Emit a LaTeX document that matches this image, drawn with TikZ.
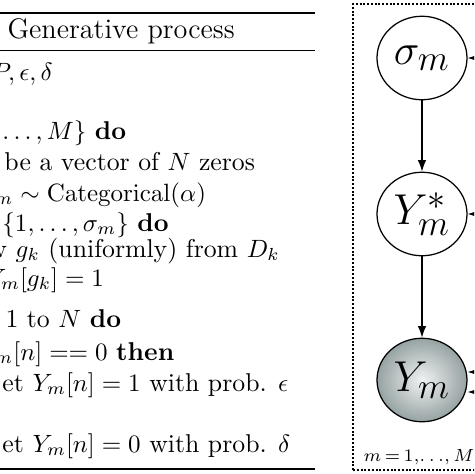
\documentclass[tikz,border=0pt]{standalone}
\usepackage{amsmath, amssymb}
\usetikzlibrary{arrows.meta, shapes.geometric}
\definecolor{obsin}{RGB}{240,242,242}
\definecolor{obsout}{RGB}{150,162,162}

\newcommand{\pvar}[1]{{\fontsize{19}{20}\selectfont$#1$}}

\begin{document}
\begin{tikzpicture}[x=0.4pt, y=-0.4pt,
    line/.style={anchor=base west, inner sep=0pt, font=\fontsize{10.3}{12}\selectfont},
    var/.style={draw, ellipse, line width=0.5pt, minimum width=36pt, minimum height=33.4pt, inner sep=0pt},
    obs/.style={var, inner color=obsin, outer color=obsout},
    arr/.style={line width=0.5pt, -{Latex[length=4.6pt, width=3.4pt]}},
    plate/.style={line width=1pt, dash pattern=on 0.8pt off 0.7pt}]
  \useasboundingbox (0,0) rectangle (474,474);
  \clip (0,0) rectangle (474,474);
  \draw[line width=0.8pt] (0,13) -- (315,13);
  \draw[line width=0.4pt] (0,50) -- (315,50);
  \draw[line width=0.8pt] (0,469) -- (315,469);
  \node[line, font=\fontsize{11.3}{13}\selectfont] (title) at (7,38) {Generative process};
  \node[line] (in) at (-9,80) {$P, \epsilon, \delta$};
  \node[line] (loopm) at (2,139) {$\ldots, M\}$ \textbf{do}};
  \node[line] (init) at (4,170) {be a vector of $N$ zeros};
  \node[line] (draws) at (-6,201) {${}_m \sim \mathrm{Categorical}(\alpha)$};
  \node[line] (loopk) at (2,231) {$\{1, \ldots, \sigma_m\}$ \textbf{do}};
  \node[line] (drawg) at (-12,257) {w $g_k$ (uniformly) from $D_k$};
  \node[line] (setg) at (-14,286) {$Y_m[g_k] = 1$};
  \node[line] (loopn) at (5,327) {1 to $N$ \textbf{do}};
  \node[line] (ifz) at (-6,360) {${}_m[n] == 0$ \textbf{then}};
  \node[line] (setone) at (2,391) {et $Y_m[n] = 1$ with prob. $\epsilon$};
  \node[line] (setzero) at (2,452) {et $Y_m[n] = 0$ with prob. $\delta$};

  \draw[plate] (353,470) -- (353,4) -- (480,4);
  \draw[plate] (353,470) -- (480,470);
  \node[var] (sigma) at (422,58) {\pvar{\sigma_m}};
  \node[var] (ystar) at (422,214) {\pvar{Y^*_m}};
  \node[obs] (ym) at (422,380) {\pvar{Y_m}};
  \node[anchor=base, inner sep=0pt, font=\fontsize{7.4}{9}\selectfont] (label) at (419,461) {$m\,{=}\,1,\!\ldots\!,M$};
  \draw[arr] (sigma) -- (ystar);
  \draw[arr] (ystar) -- (ym);
  \coordinate (insigma) at (480,58);
  \coordinate (inystar) at (480,214);
  \coordinate (inya) at (480,372);
  \coordinate (inyb) at (480,392);
  \draw[arr] (insigma) -- (sigma);
  \draw[arr] (inystar) -- (ystar);
  \draw[arr] (inya) -- (inya -| ym.east);
  \draw[arr] (inyb) -- (inyb -| ym.east);
\end{tikzpicture}
\end{document}
